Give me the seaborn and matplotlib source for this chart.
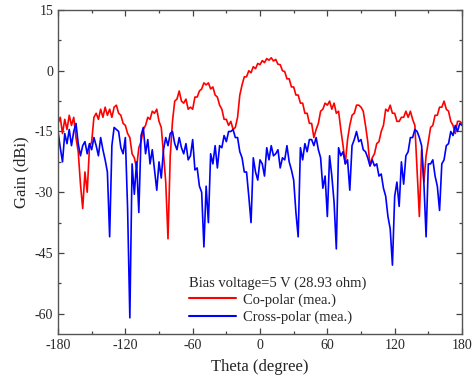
import numpy as np
import pandas as pd
import matplotlib
matplotlib.use("Agg")
import matplotlib.pyplot as plt
from matplotlib.ticker import MultipleLocator
import seaborn as sns

theta = np.arange(-180, 181, 2)

co_polar = [
    -13, -11.5, -15.5, -12, -14.5, -11, -13.5, -11.5, -16.5, -20,
    -28, -34, -25, -30, -19, -17.5, -11.5, -10.5, -12, -9.5,
    -11.5, -9, -11, -9.5, -11.5, -9, -8.5, -10.5, -11, -13,
    -13.5, -15.5, -16.5, -20.5, -21.5, -24, -19, -17.5, -14.5, -13.5,
    -11.5, -12, -10, -10.5, -9.5, -12.5, -14, -20.5, -27.5, -41.5,
    -21, -12.5, -7.5, -7, -5, -7.5, -8, -7, -9.5, -9,
    -9.5, -6.5, -6.5, -5, -4.5, -3, -3.5, -3, -4.5, -4,
    -6, -6.5, -8.5, -9.5, -12, -12, -13.5, -12.5, -14.5, -14,
    -11.5, -6, -3.5, -1.5, -1.5, 0, -0.5, 1, 0.5, 1.8,
    1.5, 2.5, 2, 3, 2.6, 3.2, 2.4, 2.8, 1.6, 1.5,
    0, -0.2, -2, -2, -4, -4, -6, -6, -8, -8,
    -10.5, -10.5, -13, -13, -16.5, -14.5, -13, -10, -9.5, -8,
    -8.5, -7.5, -9.5, -8, -10.5, -10, -14.5, -18.5, -23, -17,
    -13.5, -11, -10.5, -8.5, -8.5, -9, -10, -13.5, -17.5, -23.5,
    -21.5, -20.5, -18, -17.5, -15, -13.5, -9.5, -10, -8.5, -10.5,
    -10.5, -12.5, -12.5, -11.5, -11.5, -10, -11.5, -10, -12, -13.5,
    -25, -36, -19.5, -27.5, -21, -17.5, -14, -13.5, -11, -11,
    -9, -9, -7.5, -9.5, -10, -12.5, -13.5, -15.5, -12.5, -12.5,
    -13,
]

cross_polar = [
    -15, -19, -22.5, -15.5, -18, -14.5, -18.5, -15, -13, -18,
    -21, -18.5, -17.5, -20.5, -18, -19.5, -16.5, -18.5, -21, -16.5,
    -19.5, -22, -25, -41, -18.5, -14, -14.5, -15, -19, -20.5,
    -16.5, -34, -61, -23, -30.5, -22.5, -35, -16, -14, -20.5,
    -17, -23, -19.5, -24.5, -29.5, -22.5, -26.5, -19.5, -16.5, -18.5,
    -15.5, -15, -18, -19.5, -16.5, -19, -20.5, -18, -22, -21,
    -17, -24.5, -24, -28.5, -30, -43.5, -28.5, -37.5, -20.5, -23,
    -18.5, -24, -18.5, -19, -16, -17.5, -15, -15, -14.5, -16.5,
    -16.5, -20, -21.5, -25, -25, -31, -37.5, -21.5, -25, -27,
    -22, -23, -26, -19, -22, -18.5, -21, -20.5, -19.5, -24,
    -21.5, -22, -18.5, -22.5, -24.5, -27, -35, -41, -19, -22,
    -18, -20, -17, -17, -18.5, -16.5, -19.5, -21.5, -29, -26,
    -36, -21, -26, -32.5, -44, -19, -21, -20, -23, -22,
    -29.5, -18.5, -17, -15, -17.5, -17, -19.5, -20, -21.5, -23.5,
    -22, -23.5, -23, -26, -25.5, -29, -31, -36, -39, -48,
    -31, -27.5, -33.5, -22.5, -28, -21, -20, -16.5, -16.5, -14.5,
    -15, -16.5, -18.5, -27.5, -41, -23, -23, -22, -26, -28.5,
    -34.5, -23, -22, -18.5, -18, -15, -16, -13.5, -15, -13,
    -13.5,
]

series_names = ["Co-polar (mea.)", "Cross-polar (mea.)"]
series_colors = ["red", "blue"]
legend_title = "Bias voltage=5 V (28.93 ohm)"
x_ticks = [-180, -120, -60, 0, 60, 120, 180]
y_ticks = [-60, -45, -30, -15, 0, 15]

df = pd.concat([
    pd.DataFrame({"Theta": theta, "Gain": co_polar, "Series": series_names[0]}),
    pd.DataFrame({"Theta": theta, "Gain": cross_polar, "Series": series_names[1]}),
])

sns.set_style("ticks")
plt.rcParams["font.family"] = ["Liberation Serif", "DejaVu Serif"]
plt.rcParams["axes.unicode_minus"] = False

fig = plt.figure(figsize=(4.74, 3.81), dpi=100)
ax = fig.add_axes([0.1224, 0.1234, 0.8523, 0.8504])

sns.lineplot(data=df, x="Theta", y="Gain", hue="Series",
             palette=dict(zip(series_names, series_colors)),
             linewidth=1.2, ax=ax, sort=False, estimator=None)

ax.set_xlim(-180, 180)
ax.set_ylim(-65, 15)
ax.set_xticks(x_ticks)
ax.set_yticks(y_ticks)
ax.xaxis.set_minor_locator(MultipleLocator(30))
ax.yaxis.set_minor_locator(MultipleLocator(7.5))
ax.tick_params(which="both", direction="in", top=True, right=True,
               labelsize=10, color="#444444", width=0.9)
ax.tick_params(which="major", length=4)
ax.tick_params(which="minor", length=2.5)
for s in ax.spines.values():
    s.set_color("#555555")
    s.set_linewidth(1.0)

ax.set_xlabel("Theta (degree)", fontsize=12, labelpad=5)
ax.set_ylabel("Gain (dBi)", fontsize=12, labelpad=4)

leg = ax.legend(title=legend_title, loc="lower left",
                bbox_to_anchor=(0.30, 0.0), frameon=False,
                fontsize=10.5, title_fontsize=10.5,
                handlelength=3.2, handletextpad=0.5,
                labelspacing=0.25, borderaxespad=0.3)
leg._legend_box.align = "left"
for line in leg.get_lines():
    line.set_linewidth(1.5)

fig.savefig("out.png", dpi=100)
